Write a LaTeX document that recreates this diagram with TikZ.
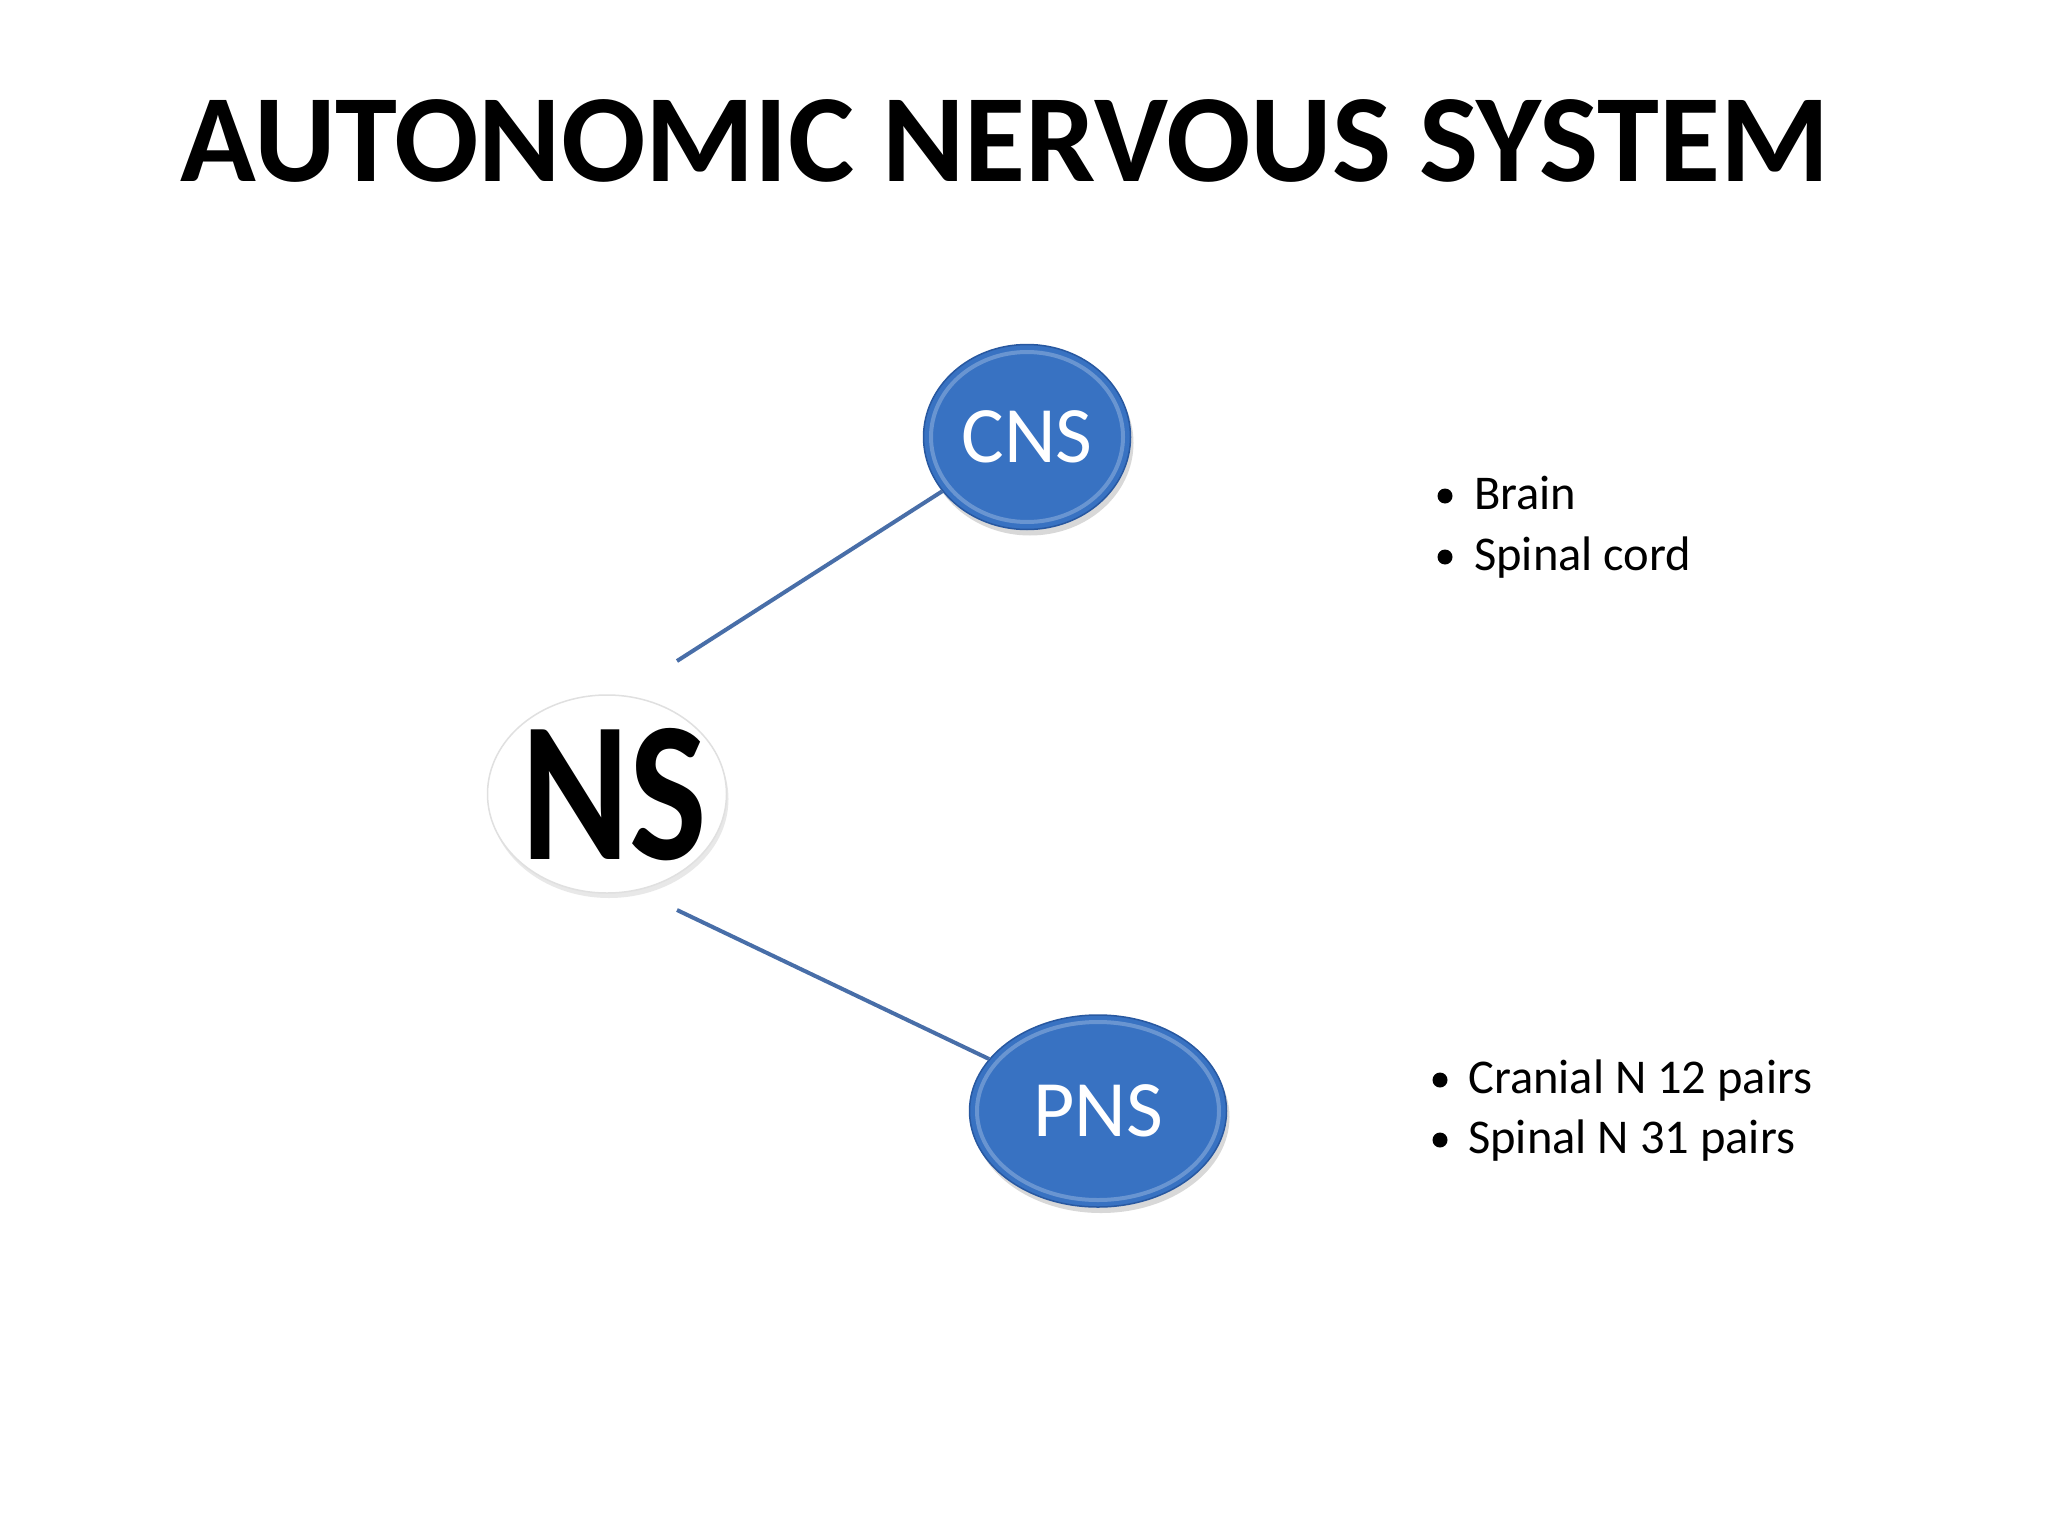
\documentclass[tikz,border=0pt]{standalone}
\usepackage{fontspec}
\setmainfont{Carlito}
\usetikzlibrary{shapes.geometric,shadows}
\definecolor{ballblue}{RGB}{56,114,194}
\definecolor{balledge}{RGB}{40,88,160}
\definecolor{linkblue}{RGB}{72,110,168}
\tikzset{
  blueball/.style={ellipse, inner sep=0pt, fill=ballblue, draw=balledge, line width=1.5pt,
    text=white, font=\fontsize{80}{90}\selectfont,
    drop shadow={shadow xshift=3pt, shadow yshift=-6pt, opacity=0.25, fill=black!60}},
  whiteball/.style={ellipse, inner sep=0pt, fill=white, draw=black!12, line width=1.5pt,
    drop shadow={shadow xshift=2pt, shadow yshift=-5pt, opacity=0.18, fill=black!50}},
  link/.style={draw=linkblue, line width=4pt},
  bullettext/.style={anchor=base west, font=\fontsize{48.5}{58}\selectfont, inner sep=0pt},
  bulletdot/.style={circle, fill=black, inner sep=0pt, minimum size=15pt},
  rim/.style={draw=white, opacity=0.25, line width=4pt}
}
\begin{document}
\begin{tikzpicture}[x=1pt,y=-1pt]
\useasboundingbox (0,0) rectangle (2048,1536);
\fill[white] (0,0) rectangle (2048,1536);
% title
\node[anchor=base, inner sep=0pt, font=\bfseries\fontsize{125}{132}\selectfont] (title) at (1005,182) {AUTONOMIC NERVOUS SYSTEM};
% balls
\node[whiteball, minimum width=239pt, minimum height=198pt] (ns) at (607,794) {};
\node[inner sep=0pt, font=\bfseries\fontsize{200}{210}\selectfont, xscale=0.82] (nslabel) at (614,795) {NS};
\node[blueball, minimum width=207pt, minimum height=185pt] (cns) at (1027,437) {CNS};
\node[blueball, minimum width=257pt, minimum height=192pt] (pns) at (1098,1111) {PNS};
\draw[rim] (1027,437) ellipse [x radius=96, y radius=85];
\draw[rim] (1098,1111) ellipse [x radius=121, y radius=89];
% connectors
\coordinate (l1) at (677,661);
\coordinate (l2) at (677,910);
\draw[link] (l1) -- (cns);
\draw[link] (l2) -- (pns);
% bullets
\node[bulletdot] (b1) at (1445,496) {};
\node[bullettext] (t1) at (1474,509) {Brain};
\node[bulletdot] (b2) at (1445,557) {};
\node[bullettext] (t2) at (1474,570) {Spinal cord};
\node[bulletdot] (b3) at (1440,1080) {};
\node[bullettext] (t3) at (1468,1093) {Cranial N 12 pairs};
\node[bulletdot] (b4) at (1440,1140) {};
\node[bullettext] (t4) at (1468,1153) {Spinal N 31 pairs};
\end{tikzpicture}
\end{document}
